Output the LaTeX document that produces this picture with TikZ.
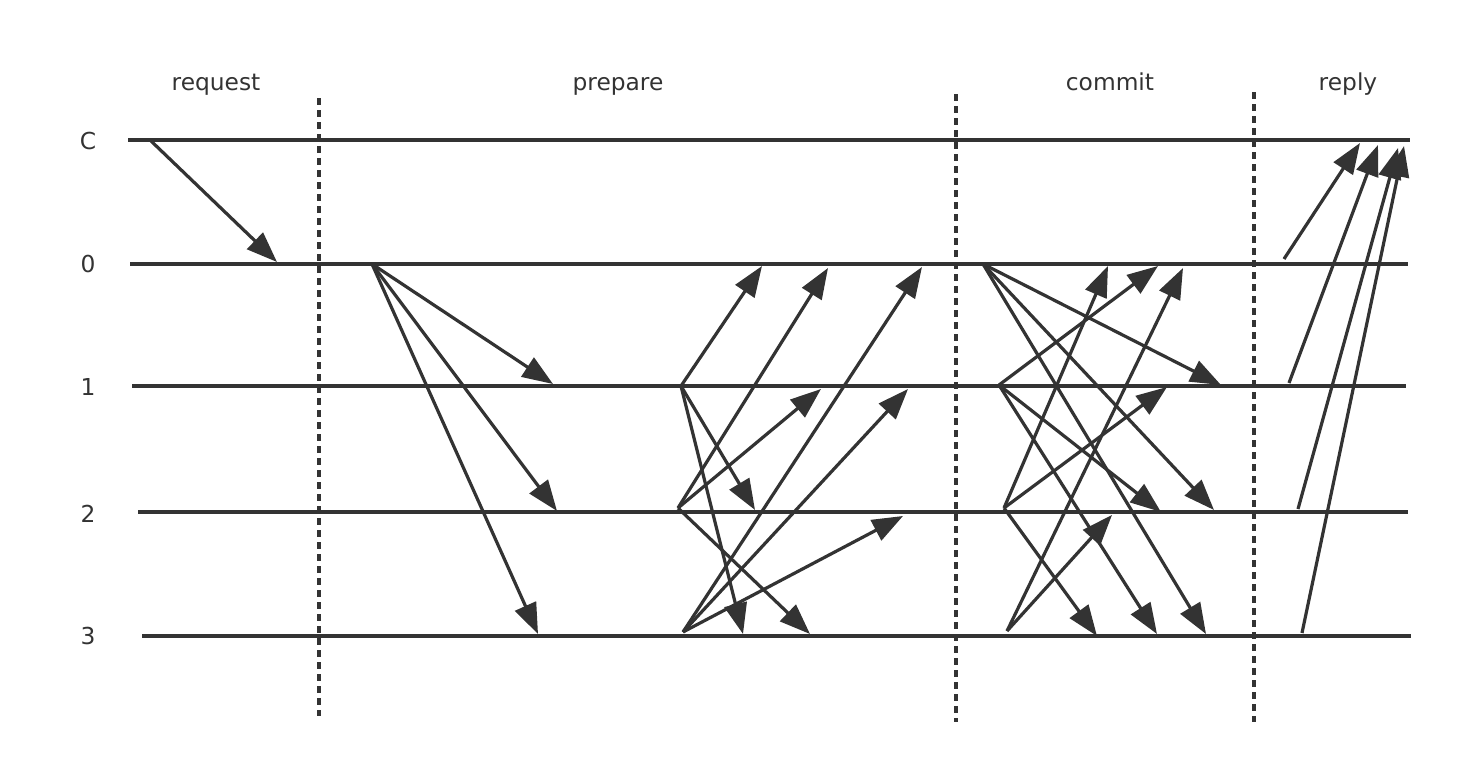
\documentclass[tikz,border=0pt]{standalone}
\usepackage{fontspec}
\setmainfont{DejaVu Sans}
\usetikzlibrary{arrows.meta}
\definecolor{ink}{HTML}{333333}
\begin{document}
\begin{tikzpicture}[x=0.75pt,y=-0.75pt,
  lane/.style={line width=2.6pt, draw=ink},
  msg/.style={line width=2.4pt, draw=ink, -{Triangle[length=23pt,width=17pt]}},
  phase/.style={draw=ink, line width=3pt, dash pattern=on 5pt off 4pt},
  lbl/.style={font=\fontsize{17.5}{21}\selectfont, text=ink, anchor=base, inner sep=0pt}]
\useasboundingbox (0,0) rectangle (1482,778);
% lanes
\coordinate (Cl) at (128,140); \coordinate (Cr) at (1410,140);
\coordinate (L0l) at (130,264); \coordinate (L0r) at (1408,264);
\coordinate (L1l) at (132,386); \coordinate (L1r) at (1406,386);
\coordinate (L2l) at (138,512); \coordinate (L2r) at (1408,512);
\coordinate (L3l) at (142,636); \coordinate (L3r) at (1411,636);
\draw[lane] (Cl) -- (Cr);
\draw[lane] (L0l) -- (L0r);
\draw[lane] (L1l) -- (L1r);
\draw[lane] (L2l) -- (L2r);
\draw[lane] (L3l) -- (L3r);
% phase separators
\coordinate (d1t) at (319,98);  \coordinate (d1b) at (319,716);
\coordinate (d2t) at (956,94);  \coordinate (d2b) at (956,722);
\coordinate (d3t) at (1254,92); \coordinate (d3b) at (1254,722);
\draw[phase] (d1t) -- (d1b);
\draw[phase] (d2t) -- (d2b);
\draw[phase] (d3t) -- (d3b);
% labels
\node[lbl] (hreq) at (216,90) {request};
\node[lbl] (hpre) at (618,90) {prepare};
\node[lbl] (hcom) at (1110,90) {commit};
\node[lbl] (hrep) at (1348,90) {reply};
\node[lbl] (nC) at (88,149) {C};
\node[lbl] (n0) at (88,272) {0};
\node[lbl] (n1) at (88,395) {1};
\node[lbl] (n2) at (88,522) {2};
\node[lbl] (n3) at (88,644) {3};
% request
\coordinate (rq0) at (150,140); \coordinate (rq1) at (277,262);
\draw[msg] (rq0) -- (rq1);
% pre-prepare
\coordinate (pp) at (372,264);
\coordinate (pp1) at (553,384); \coordinate (pp2) at (557,511); \coordinate (pp3) at (538,634);
\draw[msg] (pp) -- (pp1);
\draw[msg] (pp) -- (pp2);
\draw[msg] (pp) -- (pp3);
% prepare
\coordinate (p1) at (681,386);
\coordinate (p10) at (762,266); \coordinate (p12) at (755,510); \coordinate (p13) at (743,634);
\coordinate (p2) at (678,508);
\coordinate (p20) at (828,268); \coordinate (p21) at (821,389); \coordinate (p23) at (810,634);
\coordinate (p3) at (683,632);
\coordinate (p30) at (922,267); \coordinate (p31) at (908,389); \coordinate (p32) at (903,516);
\draw[msg] (p1) -- (p10);
\draw[msg] (p1) -- (p12);
\draw[msg] (p1) -- (p13);
\draw[msg] (p2) -- (p20);
\draw[msg] (p2) -- (p21);
\draw[msg] (p2) -- (p23);
\draw[msg] (p3) -- (p30);
\draw[msg] (p3) -- (p31);
\draw[msg] (p3) -- (p32);
% commit
\coordinate (c0) at (983,264);
\coordinate (c01) at (1221,385); \coordinate (c02) at (1214,510); \coordinate (c03) at (1206,634);
\coordinate (c1) at (999,385);
\coordinate (c10) at (1158,266); \coordinate (c12) at (1161,512); \coordinate (c13) at (1157,634);
\coordinate (c2) at (1004,508);
\coordinate (c20) at (1108,266); \coordinate (c21) at (1167,387); \coordinate (c23) at (1097,636);
\coordinate (c3) at (1007,631);
\coordinate (c30) at (1183,268); \coordinate (c32) at (1112,515);
\draw[msg] (c0) -- (c01);
\draw[msg] (c0) -- (c02);
\draw[msg] (c0) -- (c03);
\draw[msg] (c1) -- (c10);
\draw[msg] (c1) -- (c12);
\draw[msg] (c1) -- (c13);
\draw[msg] (c2) -- (c20);
\draw[msg] (c2) -- (c21);
\draw[msg] (c2) -- (c23);
\draw[msg] (c3) -- (c30);
\draw[msg] (c3) -- (c32);
% reply
\coordinate (r0) at (1284,259); \coordinate (rC0) at (1360,143);
\coordinate (r1) at (1289,383); \coordinate (rC1) at (1378,145);
\coordinate (r2) at (1298,509); \coordinate (rC2) at (1398,148);
\coordinate (r3) at (1302,633); \coordinate (rC3) at (1404,146);
\draw[msg] (r0) -- (rC0);
\draw[msg] (r1) -- (rC1);
\draw[msg] (r2) -- (rC2);
\draw[msg] (r3) -- (rC3);
\end{tikzpicture}
\end{document}
